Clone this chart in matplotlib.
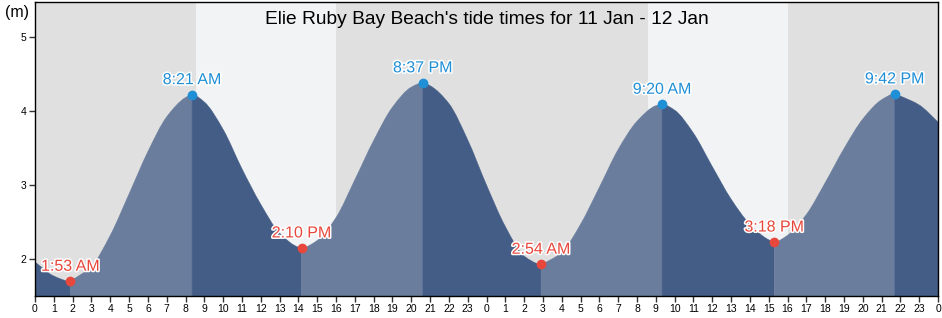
import matplotlib
matplotlib.use("Agg")
import matplotlib.pyplot as plt
import matplotlib.patheffects as pe
from matplotlib.path import Path
from matplotlib.patches import PathPatch
import numpy as np

# ---- data ----
hours = list(range(0, 49))
hourly_height = [1.96, 1.77, 1.72, 1.90, 2.32, 2.88, 3.45, 3.92, 4.18, 4.12,
                 3.75, 3.22, 2.74, 2.35, 2.16, 2.25, 2.56, 3.07, 3.60, 4.05,
                 4.32, 4.34, 4.10, 3.61, 3.00, 2.44, 2.04, 1.94, 2.09, 2.47,
                 2.97, 3.48, 3.86, 4.07, 4.01, 3.70, 3.25, 2.81, 2.47, 2.26,
                 2.32, 2.60, 3.03, 3.49, 3.89, 4.15, 4.20, 4.08, 3.85]

extreme_times = [1 + 53/60, 8 + 21/60, 14 + 10/60, 20 + 37/60,
                 24 + 2 + 54/60, 24 + 9 + 20/60, 24 + 15 + 18/60, 24 + 21 + 42/60]
extreme_heights = [1.70, 4.22, 2.15, 4.38, 1.93, 4.09, 2.23, 4.23]
extreme_labels = ["1:53 AM", "8:21 AM", "2:10 PM", "8:37 PM",
                  "2:54 AM", "9:20 AM", "3:18 PM", "9:42 PM"]
extreme_kind = ["low", "high", "low", "high", "low", "high", "low", "high"]

daylight = [(8.55, 16.0), (32.6, 40.05)]
tick_labels = [str(h % 24) for h in range(0, 49)]
title = "Elie Ruby Bay Beach's tide times for 11 Jan - 12 Jan"

# ---- colours ----
night_col = "#e0e0e0"
day_col = "#f2f3f5"
rise_col = "#6a7d9c"
fall_col = "#445d86"
low_col = "#e8483b"
high_col = "#1f8fd6"

plt.rcParams['font.family'] = ['Liberation Sans', 'DejaVu Sans']

fig = plt.figure(figsize=(9.42, 3.18), dpi=100)
ax = fig.add_axes([35/942, 1 - 296/318, (938 - 35)/942, (296 - 2)/318])

ymin, ymax = 1.5, 5.47
ax.set_xlim(0, 48)
ax.set_ylim(ymin, ymax)

ax.set_facecolor(night_col)
for a, b in daylight:
    ax.axvspan(a, b, color=day_col, zorder=0, lw=0)

# combined series (hourly readings + extremes)
t_all = np.array(hours + extreme_times, dtype=float)
h_all = np.array(hourly_height + extreme_heights, dtype=float)
order = np.argsort(t_all, kind="stable")
t_all, h_all = t_all[order], h_all[order]

# monotone (Fritsch-Carlson) tangents so the spline line is smooth
dx = np.diff(t_all)
d = np.diff(h_all) / dx
m = np.zeros_like(h_all)
m[0], m[-1] = d[0], d[-1]
for k in range(1, len(h_all) - 1):
    if d[k - 1] * d[k] <= 0:
        m[k] = 0.0
    else:
        w1 = 2 * dx[k] + dx[k - 1]
        w2 = dx[k] + 2 * dx[k - 1]
        m[k] = (w1 + w2) / (w1 / d[k - 1] + w2 / d[k])


def seg_path(i0, i1):
    verts = [(t_all[i0], ymin), (t_all[i0], h_all[i0])]
    codes = [Path.MOVETO, Path.LINETO]
    for k in range(i0, i1):
        h = dx[k]
        verts += [(t_all[k] + h / 3, h_all[k] + m[k] * h / 3),
                  (t_all[k + 1] - h / 3, h_all[k + 1] - m[k + 1] * h / 3),
                  (t_all[k + 1], h_all[k + 1])]
        codes += [Path.CURVE4] * 3
    verts += [(t_all[i1], ymin), (t_all[i0], ymin)]
    codes += [Path.LINETO, Path.CLOSEPOLY]
    return Path(verts, codes)


bounds = [0.0] + extreme_times + [48.0]
for i in range(len(bounds) - 1):
    a, b = bounds[i], bounds[i + 1]
    i0 = int(np.argmin(np.abs(t_all - a)))
    i1 = int(np.argmin(np.abs(t_all - b)))
    col = rise_col if h_all[i1] > h_all[i0] else fall_col
    ax.add_patch(PathPatch(seg_path(i0, i1), facecolor=col, edgecolor=col,
                           lw=0.3, zorder=2))

# markers and labels
for t, h, lab, kind in zip(extreme_times, extreme_heights, extreme_labels, extreme_kind):
    c = low_col if kind == "low" else high_col
    ax.plot([t], [h], 'o', color=c, ms=7, zorder=4, mec='none')
    ax.annotate(lab, (t, h), xytext=(0, 7.5), textcoords='offset points',
                ha='center', va='baseline', fontsize=11.5, color=c, zorder=5,
                path_effects=[pe.withStroke(linewidth=2.2, foreground='white')])

ax.text(0.5, 0.94, title, transform=ax.transAxes, ha='center', va='center',
        fontsize=13.8, color='black', zorder=6)

ax.set_xticks(hours)
ax.set_xticklabels(tick_labels)
ax.set_yticks([2, 3, 4, 5])
ax.tick_params(axis='both', labelsize=7.5, length=4, width=1, color='#333333', pad=2)
for s in ax.spines.values():
    s.set_color('black')
    s.set_linewidth(1)
    s.set_zorder(7)

fig.text(5/942, 1 - 13/318, "(m)", ha='left', va='center', fontsize=11.5)

fig.savefig("out.png", dpi=100)
